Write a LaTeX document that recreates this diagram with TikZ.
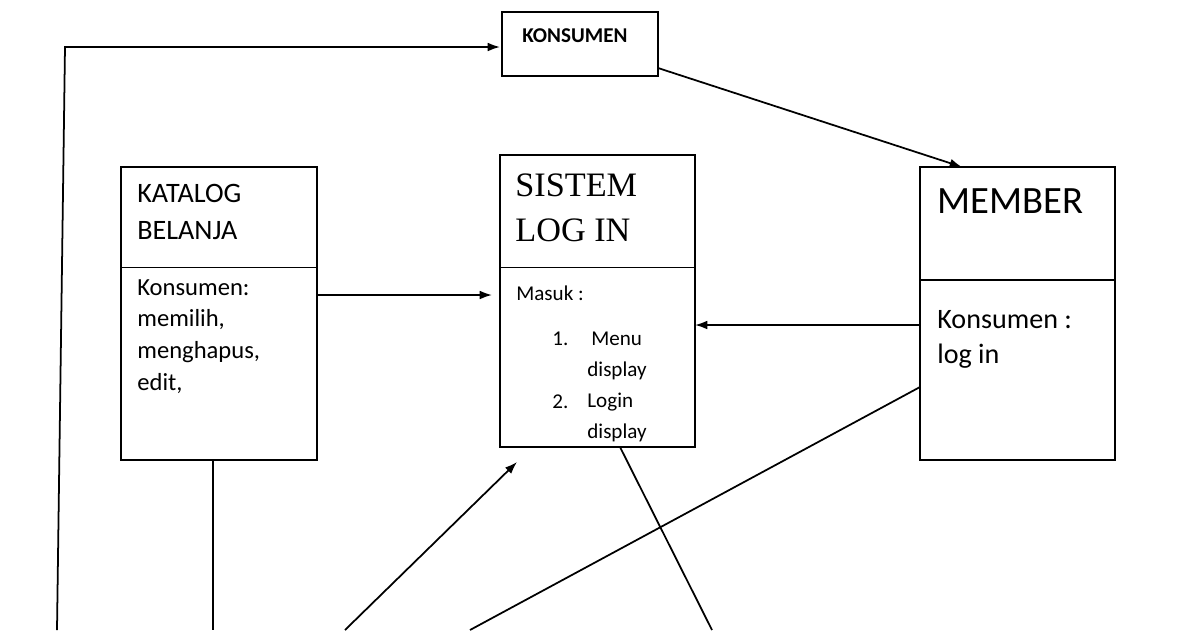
\documentclass[tikz,border=0pt]{standalone}
\usepackage{fontspec}
\usetikzlibrary{arrows.meta}
\setmainfont{Carlito}
\newfontfamily\serifx{Liberation Serif}
\begin{document}
\begin{tikzpicture}[x=0.02cm,y=-0.02cm,
 box/.style={draw,line width=0.7pt},
 ln/.style={line width=1pt},
 ar/.style={ln,-{Latex[length=7pt,width=5pt]}},
 t/.style={anchor=west,inner sep=0pt}]
\useasboundingbox (0,0) rectangle (1200,630);
\fill[white] (0,0) rectangle (1200,630);
% boxes
\draw[box] (502,12) rectangle (658,76);
\node[t,font=\bfseries\fontsize{12}{14}\selectfont] (kon) at (522,36) {KONSUMEN};
\draw[box] (121,167) rectangle (317,460); \draw[line width=0.5pt] (121,267)--(317,267);
\draw[box,line width=1.4pt] (500,155) rectangle (695,447); \draw[line width=0.5pt] (500,267)--(695,267);
\draw[box] (920,167) rectangle (1115,460); \draw[line width=0.8pt] (920,280)--(1115,280);
% texts
\begin{scope}[font=\fontsize{14}{16}\selectfont]
\node[t] (k3) at (137,288) {Konsumen:};
\node[t] (k4) at (137,320) {memilih,};
\node[t] (k5) at (137,352) {menghapus,};
\node[t] (k6) at (137,384) {edit,};
\end{scope}
\begin{scope}[font=\fontsize{16}{18}\selectfont]
\node[t] (k1) at (137,193) {KATALOG};
\node[t] (k2) at (137,231) {BELANJA};
\node[t] (m2) at (937,320) {Konsumen :};
\node[t] (m3) at (937,356) {log in};
\end{scope}
\node[t,font=\serifx\fontsize{19.5}{20}\selectfont] (s1) at (515,185) {SISTEM};
\node[t,font=\serifx\fontsize{19.5}{20}\selectfont] (s2) at (515,230) {LOG IN};
\node[t,font=\fontsize{22}{24}\selectfont] (m1) at (937,201) {MEMBER};
\begin{scope}[font=\fontsize{12}{14}\selectfont]
\node[t] (ma) at (516,293) {Masuk :};
\node[t] (n1) at (552,339) {1.};
\node[t] (n1b) at (591,339) {Menu};
\node[t] (n1c) at (587,371) {display};
\node[t] (n2) at (552,402) {2.};
\node[t] (n2b) at (587,402) {Login};
\node[t] (n2c) at (587,433) {display};
\end{scope}
% connectors
\coordinate (a0) at (57,630); \coordinate (a1) at (65,47); \coordinate (a2) at (500,47);
\draw[ar] (a0)--(a1)--(a2);
\coordinate (b0) at (658,68); \coordinate (b1) at (962,167);
\draw[ar] (b0)--(b1);
\coordinate (c0) at (317,295); \coordinate (c1) at (492,295);
\draw[ar] (c0)--(c1);
\coordinate (d0) at (920,325); \coordinate (d1) at (695,325);
\draw[ar] (d0)--(d1);
\coordinate (e0) at (213,460); \coordinate (e1) at (213,630);
\draw[ln] (e0)--(e1);
\coordinate (f0) at (345,630); \coordinate (f1) at (517,462);
\draw[ar] (f0)--(f1);
\coordinate (g0) at (470,630); \coordinate (g1) at (920,387);
\draw[ln] (g0)--(g1);
\coordinate (h0) at (620,447); \coordinate (h1) at (712,630);
\draw[ln] (h0)--(h1);
\end{tikzpicture}
\end{document}
